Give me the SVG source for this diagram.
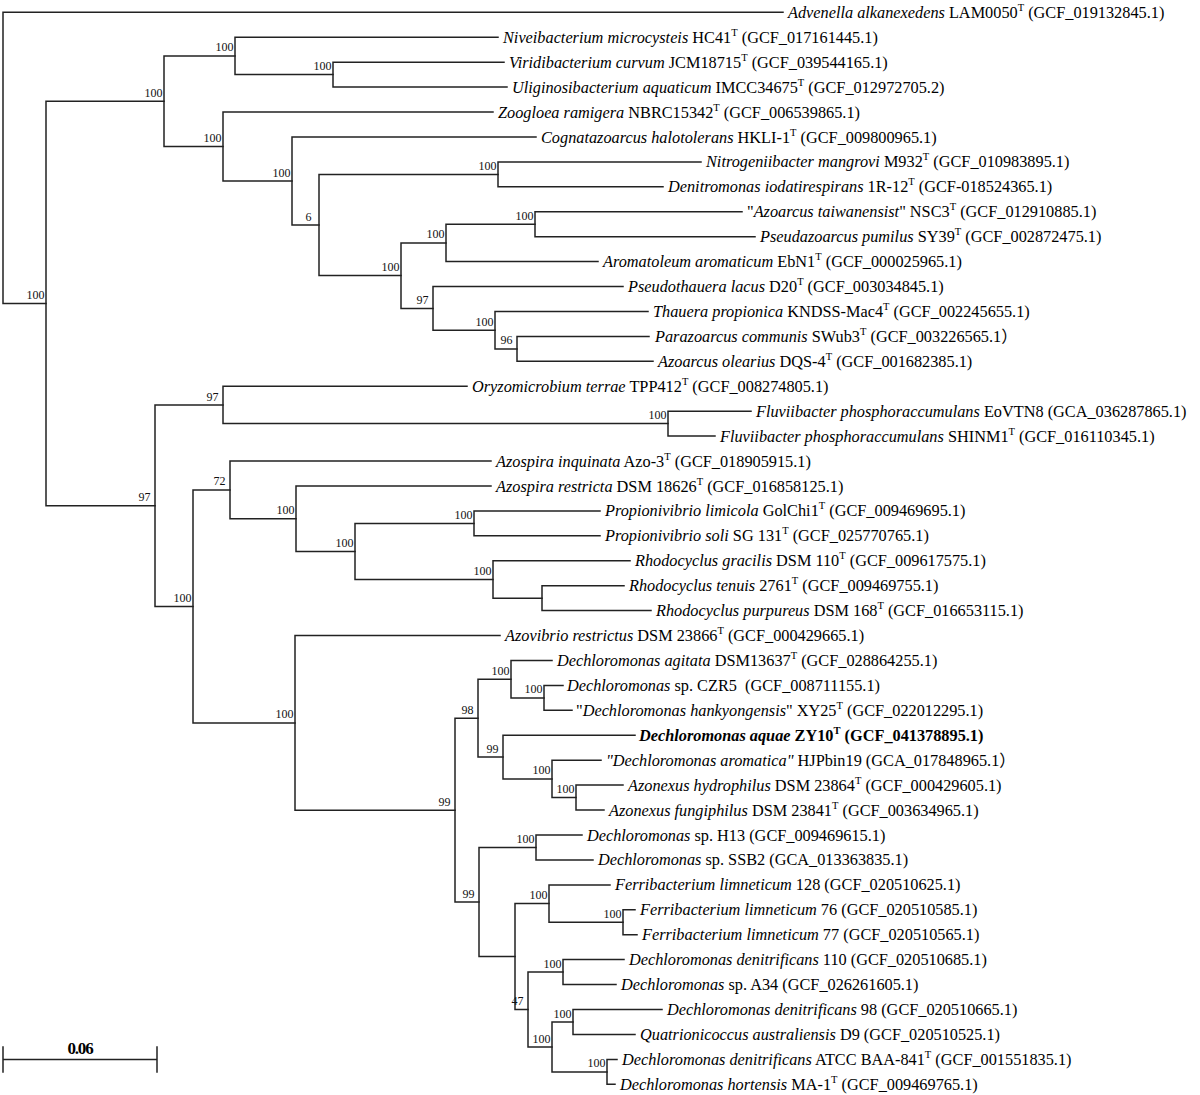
<svg xmlns="http://www.w3.org/2000/svg" width="1200" height="1095" viewBox="0 0 1200 1095">
<style>
.br{fill:none;stroke:#222;stroke-width:1.5;stroke-linecap:square}
.lf{font-family:"Liberation Serif","Noto Sans CJK SC",serif;font-size:16.3px;fill:#000}
.it{font-style:italic}
.sp{font-size:10.5px}
.bs{font-family:"Liberation Serif",serif;font-size:12px;text-anchor:middle;fill:#111}
.bold{font-weight:bold}
</style>
<rect width="1200" height="1095" fill="#fff"/>
<g id="connectors">
<path class="br" d="M3 12.3V303.5M3 12.3H783M3 303.5H46"/>
<path class="br" d="M46 101.2V505.7M46 101.2H164M46 505.7H155"/>
<path class="br" d="M164 55.9V146.5M164 55.9H235M164 146.5H223"/>
<path class="br" d="M235 37.2V74.6M235 37.2H498M235 74.6H333"/>
<path class="br" d="M333 62.2V87.1M333 62.2H504M333 87.1H507"/>
<path class="br" d="M223 112V181M223 112H493M223 181H292"/>
<path class="br" d="M292 137V225M292 137H536M292 225H319"/>
<path class="br" d="M319 174.4V275.6M319 174.4H498M319 275.6H401"/>
<path class="br" d="M498 161.9V186.8M498 161.9H701M498 186.8H663"/>
<path class="br" d="M401 242.9V308.4M401 242.9H446M401 308.4H433"/>
<path class="br" d="M446 224.2V261.6M446 224.2H535M446 261.6H598"/>
<path class="br" d="M535 211.7V236.7M535 211.7H742M535 236.7H755"/>
<path class="br" d="M433 286.5V330.2M433 286.5H623M433 330.2H495"/>
<path class="br" d="M495 311.5V348.9M495 311.5H648M495 348.9H517"/>
<path class="br" d="M517 336.4V361.3M517 336.4H649M517 361.3H653"/>
<path class="br" d="M155 405V606.4M155 405H223M155 606.4H193"/>
<path class="br" d="M223 386.3V423.6M223 386.3H467M223 423.6H668"/>
<path class="br" d="M668 411.2V436.1M668 411.2H751M668 436.1H715"/>
<path class="br" d="M193 489.9V722.9M193 489.9H230M193 722.9H295"/>
<path class="br" d="M230 461V518.8M230 461H491M230 518.8H296"/>
<path class="br" d="M296 486V551.5M296 486H491M296 551.5H355"/>
<path class="br" d="M355 523.4V579.5M355 523.4H474M355 579.5H493"/>
<path class="br" d="M474 510.9V535.8M474 510.9H600M474 535.8H600"/>
<path class="br" d="M493 560.8V598.2M493 560.8H630M493 598.2H542"/>
<path class="br" d="M542 585.7V610.6M542 585.7H624M542 610.6H651"/>
<path class="br" d="M295 635.6V810.2M295 635.6H500M295 810.2H455"/>
<path class="br" d="M455 718.2V902.1M455 718.2H478M455 902.1H479"/>
<path class="br" d="M478 679.2V757.1M478 679.2H511M478 757.1H503"/>
<path class="br" d="M511 660.5V697.9M511 660.5H552M511 697.9H544"/>
<path class="br" d="M544 685.4V710.3M544 685.4H563M544 710.3H572"/>
<path class="br" d="M503 735.3V778.9M503 735.3H635M503 778.9H552"/>
<path class="br" d="M552 760.2V797.6M552 760.2H601M552 797.6H576"/>
<path class="br" d="M576 785.1V810.1M576 785.1H623M576 810.1H604"/>
<path class="br" d="M479 847.5V956.6M479 847.5H536M479 956.6H515"/>
<path class="br" d="M536 835V859.9M536 835H582M536 859.9H593"/>
<path class="br" d="M515 903.6V1009.6M515 903.6H549M515 1009.6H528"/>
<path class="br" d="M549 884.9V922.3M549 884.9H610M549 922.3H623"/>
<path class="br" d="M623 909.8V934.7M623 909.8H635M623 934.7H637"/>
<path class="br" d="M528 972.1V1047M528 972.1H563M528 1047H552"/>
<path class="br" d="M563 959.6V984.6M563 959.6H624M563 984.6H616"/>
<path class="br" d="M552 1022V1071.9M552 1022H573M552 1071.9H607"/>
<path class="br" d="M573 1009.5V1034.4M573 1009.5H662M573 1034.4H635"/>
<path class="br" d="M607 1059.4V1084.3M607 1059.4H617M607 1084.3H615"/>
</g>
<g id="bootstrap">
<g id="node-A"><text class="bs" x="35.5" y="299">100</text></g>
<g id="node-B"><text class="bs" x="153.5" y="96.7">100</text></g>
<g id="node-D"><text class="bs" x="224.5" y="51.4">100</text></g>
<g id="node-E"><text class="bs" x="322.5" y="70.1">100</text></g>
<g id="node-F"><text class="bs" x="212.5" y="142">100</text></g>
<g id="node-G"><text class="bs" x="281.5" y="176.5">100</text></g>
<g id="node-H"><text class="bs" x="308.5" y="220.5">6</text></g>
<g id="node-I"><text class="bs" x="487.5" y="169.9">100</text></g>
<g id="node-J"><text class="bs" x="390.5" y="271.1">100</text></g>
<g id="node-K"><text class="bs" x="435.5" y="238.4">100</text></g>
<g id="node-M"><text class="bs" x="524.5" y="219.7">100</text></g>
<g id="node-L"><text class="bs" x="422.5" y="303.9">97</text></g>
<g id="node-N"><text class="bs" x="484.5" y="325.7">100</text></g>
<g id="node-O"><text class="bs" x="506.5" y="344.4">96</text></g>
<g id="node-C"><text class="bs" x="144.5" y="501.2">97</text></g>
<g id="node-P"><text class="bs" x="212.5" y="400.5">97</text></g>
<g id="node-S"><text class="bs" x="657.5" y="419.1">100</text></g>
<g id="node-Q"><text class="bs" x="182.5" y="601.9">100</text></g>
<g id="node-T"><text class="bs" x="219.5" y="485.4">72</text></g>
<g id="node-V"><text class="bs" x="285.5" y="514.3">100</text></g>
<g id="node-W"><text class="bs" x="344.5" y="547">100</text></g>
<g id="node-X"><text class="bs" x="463.5" y="518.9">100</text></g>
<g id="node-Y"><text class="bs" x="482.5" y="575">100</text></g>
<g id="node-U"><text class="bs" x="284.5" y="718.4">100</text></g>
<g id="node-AA"><text class="bs" x="444.5" y="805.7">99</text></g>
<g id="node-AB"><text class="bs" x="467.5" y="713.7">98</text></g>
<g id="node-AD"><text class="bs" x="500.5" y="674.7">100</text></g>
<g id="node-AF"><text class="bs" x="533.5" y="693.4">100</text></g>
<g id="node-AE"><text class="bs" x="492.5" y="752.6">99</text></g>
<g id="node-AG"><text class="bs" x="541.5" y="774.4">100</text></g>
<g id="node-AH"><text class="bs" x="565.5" y="793.1">100</text></g>
<g id="node-AC"><text class="bs" x="468.5" y="897.6">99</text></g>
<g id="node-AI"><text class="bs" x="525.5" y="843">100</text></g>
<g id="node-AK"><text class="bs" x="538.5" y="899.1">100</text></g>
<g id="node-AM"><text class="bs" x="612.5" y="917.8">100</text></g>
<g id="node-AL"><text class="bs" x="517.5" y="1005.1">47</text></g>
<g id="node-AN"><text class="bs" x="552.5" y="967.6">100</text></g>
<g id="node-AO"><text class="bs" x="541.5" y="1042.5">100</text></g>
<g id="node-AP"><text class="bs" x="562.5" y="1017.5">100</text></g>
<g id="node-AQ"><text class="bs" x="596.5" y="1067.4">100</text></g>
</g>
<g id="leaves">
<g id="leaf01"><text class="lf" x="788" y="17.8"><tspan class="it">Advenella alkanexedens</tspan> LAM0050<tspan class="sp" dy="-7">T</tspan><tspan dy="7"> (GCF_019132845.1)</tspan></text></g>
<g id="leaf02"><text class="lf" x="503" y="42.7"><tspan class="it">Niveibacterium microcysteis</tspan> HC41<tspan class="sp" dy="-7">T</tspan><tspan dy="7"> (GCF_017161445.1)</tspan></text></g>
<g id="leaf03"><text class="lf" x="509" y="67.7"><tspan class="it">Viridibacterium curvum</tspan> JCM18715<tspan class="sp" dy="-7">T</tspan><tspan dy="7"> (GCF_039544165.1)</tspan></text></g>
<g id="leaf04"><text class="lf" x="512" y="92.6"><tspan class="it">Uliginosibacterium aquaticum</tspan> IMCC34675<tspan class="sp" dy="-7">T</tspan><tspan dy="7"> (GCF_012972705.2)</tspan></text></g>
<g id="leaf05"><text class="lf" x="498" y="117.5"><tspan class="it">Zoogloea ramigera</tspan> NBRC15342<tspan class="sp" dy="-7">T</tspan><tspan dy="7"> (GCF_006539865.1)</tspan></text></g>
<g id="leaf06"><text class="lf" x="541" y="142.5"><tspan class="it">Cognatazoarcus halotolerans</tspan> HKLI-1<tspan class="sp" dy="-7">T</tspan><tspan dy="7"> (GCF_009800965.1)</tspan></text></g>
<g id="leaf07"><text class="lf" x="706" y="167.4"><tspan class="it">Nitrogeniibacter mangrovi</tspan> M932<tspan class="sp" dy="-7">T</tspan><tspan dy="7"> (GCF_010983895.1)</tspan></text></g>
<g id="leaf08"><text class="lf" x="668" y="192.3"><tspan class="it">Denitromonas iodatirespirans</tspan> 1R-12<tspan class="sp" dy="-7">T</tspan><tspan dy="7"> (GCF-018524365.1)</tspan></text></g>
<g id="leaf09"><text class="lf" x="747" y="217.2">"<tspan class="it">Azoarcus taiwanensist</tspan>" NSC3<tspan class="sp" dy="-7">T</tspan><tspan dy="7"> (GCF_012910885.1)</tspan></text></g>
<g id="leaf10"><text class="lf" x="760" y="242.2"><tspan class="it">Pseudazoarcus pumilus</tspan> SY39<tspan class="sp" dy="-7">T</tspan><tspan dy="7"> (GCF_002872475.1)</tspan></text></g>
<g id="leaf11"><text class="lf" x="603" y="267.1"><tspan class="it">Aromatoleum aromaticum</tspan> EbN1<tspan class="sp" dy="-7">T</tspan><tspan dy="7"> (GCF_000025965.1)</tspan></text></g>
<g id="leaf12"><text class="lf" x="628" y="292"><tspan class="it">Pseudothauera lacus</tspan> D20<tspan class="sp" dy="-7">T</tspan><tspan dy="7"> (GCF_003034845.1)</tspan></text></g>
<g id="leaf13"><text class="lf" x="653" y="317"><tspan class="it">Thauera propionica</tspan> KNDSS-Mac4<tspan class="sp" dy="-7">T</tspan><tspan dy="7"> (GCF_002245655.1)</tspan></text></g>
<g id="leaf14"><text class="lf" x="655" y="341.9"><tspan class="it">Parazoarcus communis</tspan> SWub3<tspan class="sp" dy="-7">T</tspan><tspan dy="7"> (GCF_003226565.1）</tspan></text></g>
<g id="leaf15"><text class="lf" x="658" y="366.8"><tspan class="it">Azoarcus olearius</tspan> DQS-4<tspan class="sp" dy="-7">T</tspan><tspan dy="7"> (GCF_001682385.1)</tspan></text></g>
<g id="leaf16"><text class="lf" x="472" y="391.8"><tspan class="it">Oryzomicrobium terrae</tspan> TPP412<tspan class="sp" dy="-7">T</tspan><tspan dy="7"> (GCF_008274805.1)</tspan></text></g>
<g id="leaf17"><text class="lf" x="756" y="416.7"><tspan class="it">Fluviibacter phosphoraccumulans</tspan> EoVTN8 (GCA_036287865.1)</text></g>
<g id="leaf18"><text class="lf" x="720" y="441.6"><tspan class="it">Fluviibacter phosphoraccumulans</tspan> SHINM1<tspan class="sp" dy="-7">T</tspan><tspan dy="7"> (GCF_016110345.1)</tspan></text></g>
<g id="leaf19"><text class="lf" x="496" y="466.5"><tspan class="it">Azospira inquinata</tspan> Azo-3<tspan class="sp" dy="-7">T</tspan><tspan dy="7"> (GCF_018905915.1)</tspan></text></g>
<g id="leaf20"><text class="lf" x="496" y="491.5"><tspan class="it">Azospira restricta</tspan> DSM 18626<tspan class="sp" dy="-7">T</tspan><tspan dy="7"> (GCF_016858125.1)</tspan></text></g>
<g id="leaf21"><text class="lf" x="605" y="516.4"><tspan class="it">Propionivibrio limicola</tspan> GolChi1<tspan class="sp" dy="-7">T</tspan><tspan dy="7"> (GCF_009469695.1)</tspan></text></g>
<g id="leaf22"><text class="lf" x="605" y="541.3"><tspan class="it">Propionivibrio soli</tspan> SG 131<tspan class="sp" dy="-7">T</tspan><tspan dy="7"> (GCF_025770765.1)</tspan></text></g>
<g id="leaf23"><text class="lf" x="635" y="566.3"><tspan class="it">Rhodocyclus gracilis</tspan> DSM 110<tspan class="sp" dy="-7">T</tspan><tspan dy="7"> (GCF_009617575.1)</tspan></text></g>
<g id="leaf24"><text class="lf" x="629" y="591.2"><tspan class="it">Rhodocyclus tenuis</tspan> 2761<tspan class="sp" dy="-7">T</tspan><tspan dy="7"> (GCF_009469755.1)</tspan></text></g>
<g id="leaf25"><text class="lf" x="656" y="616.1"><tspan class="it">Rhodocyclus purpureus</tspan> DSM 168<tspan class="sp" dy="-7">T</tspan><tspan dy="7"> (GCF_016653115.1)</tspan></text></g>
<g id="leaf26"><text class="lf" x="505" y="641.1"><tspan class="it">Azovibrio restrictus</tspan> DSM 23866<tspan class="sp" dy="-7">T</tspan><tspan dy="7"> (GCF_000429665.1)</tspan></text></g>
<g id="leaf27"><text class="lf" x="557" y="666"><tspan class="it">Dechloromonas agitata</tspan> DSM13637<tspan class="sp" dy="-7">T</tspan><tspan dy="7"> (GCF_028864255.1)</tspan></text></g>
<g id="leaf28"><text class="lf" x="567" y="690.9" xml:space="preserve"><tspan class="it">Dechloromonas</tspan> sp. CZR5  (GCF_008711155.1)</text></g>
<g id="leaf29"><text class="lf" x="576" y="715.8">"<tspan class="it">Dechloromonas hankyongensis</tspan>" XY25<tspan class="sp" dy="-7">T</tspan><tspan dy="7"> (GCF_022012295.1)</tspan></text></g>
<g id="leaf30"><text class="lf bold" x="639" y="740.8"><tspan class="it">Dechloromonas aquae</tspan> ZY10<tspan class="sp" dy="-7">T</tspan><tspan dy="7"> (GCF_041378895.1)</tspan></text></g>
<g id="leaf31"><text class="lf" x="606" y="765.7"><tspan class="it">"Dechloromonas aromatica"</tspan> HJPbin19 (GCA_017848965.1）</text></g>
<g id="leaf32"><text class="lf" x="628" y="790.6"><tspan class="it">Azonexus hydrophilus</tspan> DSM 23864<tspan class="sp" dy="-7">T</tspan><tspan dy="7"> (GCF_000429605.1)</tspan></text></g>
<g id="leaf33"><text class="lf" x="609" y="815.6"><tspan class="it">Azonexus fungiphilus</tspan> DSM 23841<tspan class="sp" dy="-7">T</tspan><tspan dy="7"> (GCF_003634965.1)</tspan></text></g>
<g id="leaf34"><text class="lf" x="587" y="840.5"><tspan class="it">Dechloromonas</tspan> sp. H13 (GCF_009469615.1)</text></g>
<g id="leaf35"><text class="lf" x="598" y="865.4"><tspan class="it">Dechloromonas</tspan> sp. SSB2 (GCA_013363835.1)</text></g>
<g id="leaf36"><text class="lf" x="615" y="890.4"><tspan class="it">Ferribacterium limneticum</tspan> 128 (GCF_020510625.1)</text></g>
<g id="leaf37"><text class="lf" x="640" y="915.3"><tspan class="it">Ferribacterium limneticum</tspan> 76 (GCF_020510585.1)</text></g>
<g id="leaf38"><text class="lf" x="642" y="940.2"><tspan class="it">Ferribacterium limneticum</tspan> 77 (GCF_020510565.1)</text></g>
<g id="leaf39"><text class="lf" x="629" y="965.1"><tspan class="it">Dechloromonas denitrificans</tspan> 110 (GCF_020510685.1)</text></g>
<g id="leaf40"><text class="lf" x="621" y="990.1"><tspan class="it">Dechloromonas</tspan> sp. A34 (GCF_026261605.1)</text></g>
<g id="leaf41"><text class="lf" x="667" y="1015"><tspan class="it">Dechloromonas denitrificans</tspan> 98 (GCF_020510665.1)</text></g>
<g id="leaf42"><text class="lf" x="640" y="1039.9"><tspan class="it">Quatrionicoccus australiensis</tspan> D9 (GCF_020510525.1)</text></g>
<g id="leaf43"><text class="lf" x="622" y="1064.9"><tspan class="it">Dechloromonas denitrificans</tspan> ATCC BAA-841<tspan class="sp" dy="-7">T</tspan><tspan dy="7"> (GCF_001551835.1)</tspan></text></g>
<g id="leaf44"><text class="lf" x="620" y="1089.8"><tspan class="it">Dechloromonas hortensis</tspan> MA-1<tspan class="sp" dy="-7">T</tspan><tspan dy="7"> (GCF_009469765.1)</tspan></text></g>
</g>
<g id="scale-bar">
<path class="br" d="M3 1059.5H157M3 1047V1072M157 1047V1072"/>
<text x="80" y="1054" text-anchor="middle" style="font-family:'Liberation Serif',serif;font-size:17px;font-weight:bold;letter-spacing:-1.2px">0.06</text>
</g>
</svg>
